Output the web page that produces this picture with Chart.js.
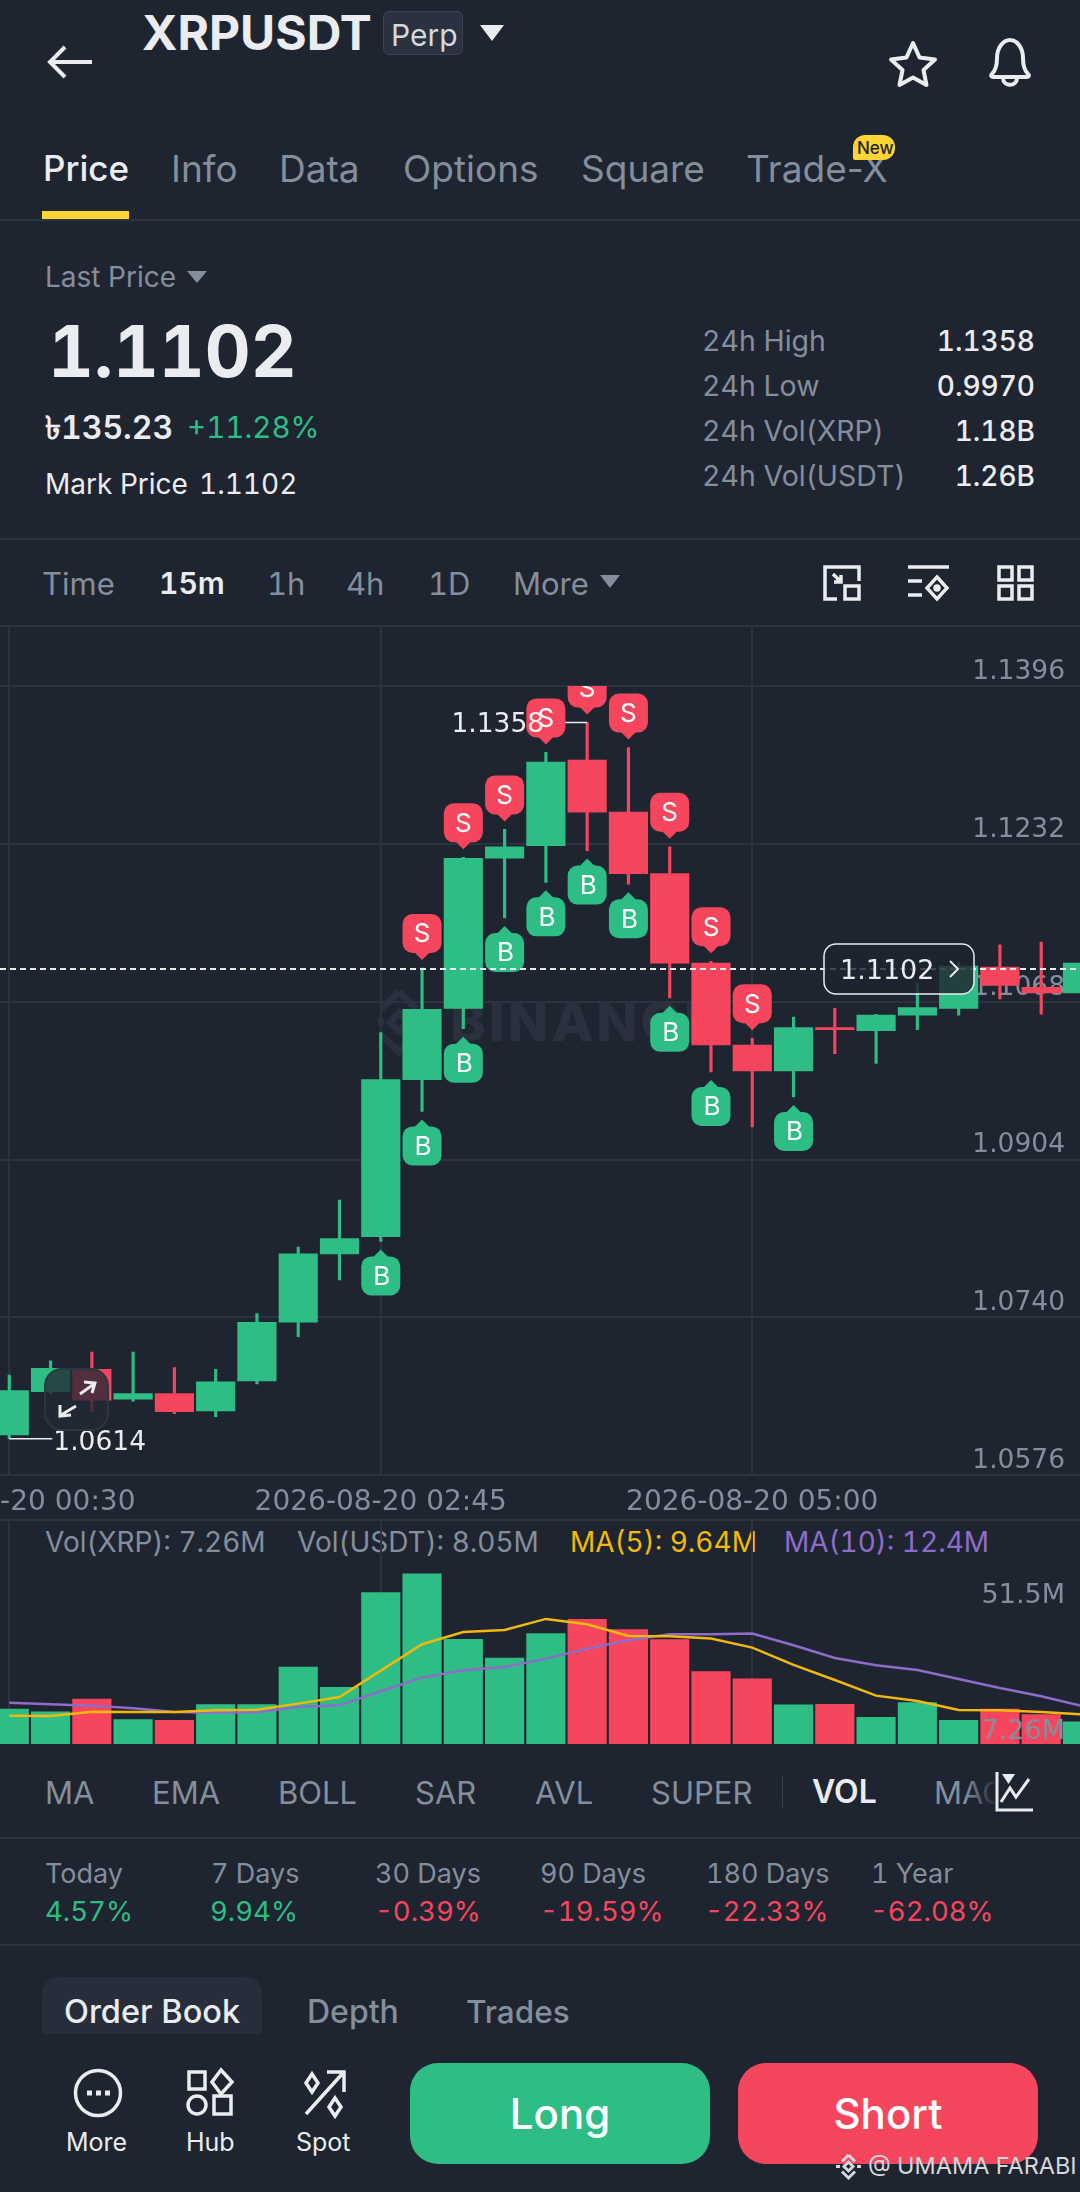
<!DOCTYPE html>
<html>
<head>
<meta charset="utf-8">
<title>XRPUSDT Perp</title>
<script src="https://cdn.jsdelivr.net/npm/chart.js@4/dist/chart.umd.min.js"></script>
<style>
html,body{margin:0;padding:0;background:#1E2530;}
body{position:relative;width:1080px;height:2192px;overflow:hidden;font-family:Inter,"Noto Sans","DejaVu Sans",sans-serif;color:#EAECEF;font-feature-settings:"tnum";font-variant-numeric:tabular-nums;}
.t{position:absolute;white-space:nowrap;line-height:1;transform:translateY(-50%);}
.g{color:#848E9C;}
.hr{position:absolute;left:0;width:1080px;height:2px;background:#2B3240;}
.abs{position:absolute;}
canvas{position:absolute;left:0;display:block;}
svg{position:absolute;overflow:visible;}
</style>
</head>
<body>

<!-- header -->
<svg style="left:48px;top:46px" width="44" height="32" fill="none" stroke="#EAECEF" stroke-width="4"><path d="M44 16H3M17 1L2 16l15 15"/></svg>
<div class="t" style="left:142px;top:33px;font-size:48px;font-weight:700">XRPUSDT</div>
<div class="abs" style="left:383px;top:11px;width:80px;height:44px;background:#2A3140;border:1px solid #3A4252;border-radius:6px;box-sizing:border-box"></div>
<div class="t" style="left:391px;top:35px;font-size:30px;color:#D5D8DD">Perp</div>
<svg style="left:480px;top:25px" width="24" height="16"><path d="M0 0H24L12 16Z" fill="#EAECEF"/></svg>
<svg style="left:889px;top:40px" width="48" height="46" viewBox="0 0 48 46" fill="none" stroke="#EAECEF" stroke-width="4" stroke-linejoin="round"><path d="M24 3l6.500 14.500L46 19.500 34.500 30l3 15L24 37.500 10.500 45l3-15L2 19.500l15.500-2z"/></svg>
<svg style="left:986px;top:37px" width="48" height="49" viewBox="0 0 48 49" fill="none" stroke="#EAECEF" stroke-width="4"><path d="M6 37c4-4 5-8 5-16 0-10 6-18 13-18s13 8 13 18c0 8 1 12 5 16 2 2 0 3-2 3H8c-2 0-4-1-2-3zM17 41c0 9 14 9 14 0"/></svg>

<!-- tabs -->
<div class="t" style="left:43px;top:168px;font-size:35px;font-weight:500">Price</div>
<div class="t g" style="left:171px;top:168px;font-size:37px">Info</div>
<div class="t g" style="left:279px;top:168px;font-size:37px">Data</div>
<div class="t g" style="left:403px;top:168px;font-size:37px">Options</div>
<div class="t g" style="left:581px;top:168px;font-size:37px">Square</div>
<div class="t g" style="left:746px;top:168px;font-size:37px;font-feature-settings:normal;font-variant-numeric:normal">Trade-X</div>
<div class="abs" style="left:853px;top:135px;width:42px;height:25px;background:#FCD535;border-radius:12px 12px 12px 2px"></div>
<div class="t" style="left:857px;top:148px;font-size:17px;color:#1E2530;font-weight:500">New</div>
<div class="abs" style="left:42px;top:211px;width:87px;height:8px;background:#FCD535"></div>
<div class="hr" style="top:219px"></div>

<!-- price block -->
<div class="t g" style="left:45px;top:277px;font-size:28px">Last Price</div>
<svg style="left:187px;top:271px" width="20" height="12"><path d="M0 0H20L10 12Z" fill="#848E9C"/></svg>
<div class="t" style="left:48px;top:351px;font-size:71px;font-weight:700">1.1102</div>
<div class="t" style="left:45px;top:428px;font-size:32px;font-weight:600">৳135.23</div>
<div class="t" style="left:187px;top:428px;font-size:29.500px;color:#2EBD85">+11.28%</div>
<div class="t" style="left:45px;top:484px;font-size:28px">Mark Price</div>
<div class="t" style="left:199px;top:484px;font-size:28px">1.1102</div>

<div class="t g" style="left:702px;top:341px;font-size:28.500px">24h High</div>
<div class="t" style="right:45px;top:341px;font-size:28px;font-weight:500">1.1358</div>
<div class="t g" style="left:702px;top:386px;font-size:28.500px">24h Low</div>
<div class="t" style="right:45px;top:386px;font-size:28px;font-weight:500">0.9970</div>
<div class="t g" style="left:702px;top:431px;font-size:28.500px">24h Vol(XRP)</div>
<div class="t" style="right:45px;top:431px;font-size:28px;font-weight:500">1.18B</div>
<div class="t g" style="left:702px;top:476px;font-size:28.500px">24h Vol(USDT)</div>
<div class="t" style="right:45px;top:476px;font-size:28px;font-weight:500">1.26B</div>
<div class="hr" style="top:538px"></div>

<!-- timeframes -->
<div class="t g" style="left:42px;top:583px;font-size:31px">Time</div>
<div class="t" style="left:159px;top:583px;font-size:30px;font-weight:600">15m</div>
<div class="t g" style="left:267px;top:583px;font-size:31px">1h</div>
<div class="t g" style="left:346px;top:583px;font-size:31px">4h</div>
<div class="t g" style="left:428px;top:583px;font-size:31px">1D</div>
<div class="t g" style="left:513px;top:583px;font-size:31px">More</div>
<svg style="left:600px;top:575px" width="20" height="13"><path d="M0 0H20L10 13Z" fill="#848E9C"/></svg>
<svg style="left:823px;top:565px" width="38" height="36" fill="none" stroke="#EAECEF" stroke-width="3.500"><path d="M14 34H2V2h34v14M10 9l8 8M18 10v7h-7"/><rect x="22" y="21" width="14" height="13"/></svg>
<svg style="left:908px;top:565px" width="41" height="36" fill="none" stroke="#EAECEF" stroke-width="3.500"><path d="M0 2H41M0 16H14M0 30H14"/><path d="M29 12l10 11-10 11-10-11z"/><circle cx="29" cy="23" r="2" fill="#EAECEF"/></svg>
<svg style="left:997px;top:565px" width="37" height="36" fill="none" stroke="#EAECEF" stroke-width="3.500"><rect x="2" y="2" width="13" height="13"/><rect x="22" y="2" width="13" height="13"/><rect x="2" y="21" width="13" height="13"/><rect x="22" y="21" width="13" height="13"/></svg>
<div class="hr" style="top:625px"></div>

<!-- watermark under the candles -->
<svg style="left:372px;top:987px" width="54" height="70" viewBox="0 0 54 70" fill="none" stroke="#2A303D" stroke-width="7"><path d="M27 5L45 22M27 5L9 22M6 35h6M42 35h6M18 35l9-9 9 9-9 9zM9 48l18 17 18-17"/></svg>
<div class="t" style="left:450px;top:1022px;font-size:54px;font-weight:800;color:#2A303D;letter-spacing:3px">BINANCE</div>

<canvas id="priceChart" width="1080" height="894" style="top:626px"></canvas>
<div class="hr" style="top:1519px"></div>

<!-- expand button -->
<div class="abs" style="left:44px;top:1368px;width:65px;height:63px;border-radius:18px;background:rgba(34,41,53,.78);border:2px solid #2E3542;box-sizing:border-box"></div>
<svg style="left:56px;top:1378px" width="42" height="42" fill="none" stroke="#EAECEF" stroke-width="3"><path d="M24 16L38 6M28 4l11 1-3 10M20 28L5 37M4 27l0 11 11-1"/></svg>

<!-- volume pane -->
<div class="t g" style="left:45px;top:1542px;font-size:28px">Vol(XRP): 7.26M</div>
<div class="t g" style="left:297px;top:1542px;font-size:28px">Vol(USDT): 8.05M</div>
<div class="t" style="left:570px;top:1542px;font-size:28px;color:#F0B90B">MA(5): 9.64M</div>
<div class="t" style="left:784px;top:1542px;font-size:28px;color:#8E6CC9">MA(10): 12.4M</div>
<canvas id="volChart" width="1080" height="224" style="top:1520px"></canvas>

<!-- indicators -->
<div class="t g" style="left:45px;top:1792px;font-size:31px">MA</div>
<div class="t g" style="left:152px;top:1792px;font-size:31px">EMA</div>
<div class="t g" style="left:278px;top:1792px;font-size:31px">BOLL</div>
<div class="t g" style="left:415px;top:1792px;font-size:31px">SAR</div>
<div class="t g" style="left:535px;top:1792px;font-size:31px">AVL</div>
<div class="t g" style="left:651px;top:1792px;font-size:31px">SUPER</div>
<div class="abs" style="left:782px;top:1775px;width:1px;height:32px;background:#3A4252"></div>
<div class="t" style="left:812px;top:1792px;font-size:32px;font-weight:600">VOL</div>
<div class="t g" style="left:934px;top:1792px;font-size:31px">MACD</div>
<div class="abs" style="left:965px;top:1770px;width:115px;height:44px;background:linear-gradient(90deg,rgba(30,37,48,0),#1E2530 28%)"></div>
<svg style="left:995px;top:1772px" width="38" height="40" fill="none" stroke="#EAECEF" stroke-width="3"><path d="M2 0V38H38M6 30l9-14 6 9 13-18"/><path d="M7 2H20L13.500 12Z" fill="#EAECEF" stroke="none"/></svg>
<div class="hr" style="top:1837px"></div>

<!-- period returns -->
<div class="t g" style="left:45px;top:1873px;font-size:27px">Today</div>
<div class="t g" style="left:211px;top:1873px;font-size:27px">7 Days</div>
<div class="t g" style="left:375px;top:1873px;font-size:27px">30 Days</div>
<div class="t g" style="left:540px;top:1873px;font-size:27px">90 Days</div>
<div class="t g" style="left:706px;top:1873px;font-size:27px">180 Days</div>
<div class="t g" style="left:871px;top:1873px;font-size:27px">1 Year</div>
<div class="t" style="left:45px;top:1912px;font-size:27.500px;color:#2EBD85">4.57%</div>
<div class="t" style="left:210px;top:1912px;font-size:27.500px;color:#2EBD85">9.94%</div>
<div class="t" style="left:375px;top:1912px;font-size:27.500px;color:#F6465D">-0.39%</div>
<div class="t" style="left:540px;top:1912px;font-size:27.500px;color:#F6465D">-19.59%</div>
<div class="t" style="left:705px;top:1912px;font-size:27.500px;color:#F6465D">-22.33%</div>
<div class="t" style="left:870px;top:1912px;font-size:27.500px;color:#F6465D">-62.08%</div>
<div class="hr" style="top:1944px"></div>

<!-- order book tabs -->
<div class="abs" style="left:42px;top:1977px;width:220px;height:57px;background:#272D3B;border-radius:16px 16px 0 0"></div>
<div class="t" style="left:64px;top:2012px;font-size:32.500px;font-weight:500">Order Book</div>
<div class="t g" style="left:307px;top:2012px;font-size:32px;font-weight:500">Depth</div>
<div class="t g" style="left:466px;top:2012px;font-size:31.500px;font-weight:500">Trades</div>

<!-- bottom bar -->
<svg style="left:74px;top:2069px" width="48" height="48" fill="none" stroke="#EAECEF" stroke-width="3.500"><circle cx="24" cy="24" r="22.500"/><path d="M13 24h5M22 24h5M31 24h5" stroke-width="5"/></svg>
<svg style="left:187px;top:2069px" width="48" height="48" fill="none" stroke="#EAECEF" stroke-width="3.500"><rect x="2" y="3" width="16" height="17"/><path d="M34 1l11 12-11 12-9-12z"/><circle cx="10" cy="36" r="9"/><rect x="27" y="27" width="17" height="18"/></svg>
<svg style="left:303px;top:2069px" width="44" height="48" fill="none" stroke="#EAECEF" stroke-width="3.500"><path d="M40 4L3 45M24 3h17v20"/><path d="M9 5l6 9-6 9-6-9zM32 29l6 9-6 9-6-9z"/></svg>
<div class="t" style="left:66px;top:2142px;font-size:25px">More</div>
<div class="t" style="left:186px;top:2142px;font-size:25px">Hub</div>
<div class="t" style="left:296px;top:2142px;font-size:25px">Spot</div>
<div class="abs" style="left:410px;top:2063px;width:300px;height:101px;border-radius:28px;background:#2EBD85"></div>
<div class="t" style="left:410px;top:2114px;width:300px;text-align:center;font-size:42px;font-weight:500;color:#fff">Long</div>
<div class="abs" style="left:738px;top:2063px;width:300px;height:101px;border-radius:28px;background:#F6465D"></div>
<div class="t" style="left:738px;top:2114px;width:300px;text-align:center;font-size:42px;font-weight:500;color:#fff">Short</div>
<svg style="left:835px;top:2153px" width="27" height="27" viewBox="0 0 27 27" fill="none" stroke="#D5D8DD" stroke-width="3"><path d="M13.500 2L20 8.500M13.500 2L7 8.500M1 13.500h4M22 13.500h4M9 13.500l4.500-4.500 4.500 4.500-4.500 4.500zM7 18.500L13.500 25 20 18.500"/></svg>
<div class="t" style="left:868px;top:2166px;font-size:23.500px;color:#D5D8DD">@ UMAMA FARABI</div>

<script>
// 15m candles, one entry per bar from 00:30 on
const opens  = [1.0618,1.0663,1.0686,1.0655,1.0661,1.0643,1.0674,1.0735,1.0806,1.0824,1.0987,1.1061,1.1217,1.1230,1.1319,1.1265,1.1201,1.1108,1.1023,1.0996,1.1041,1.1038,1.1054,1.1061,1.1104,1.1083,1.1077];
const closes = [1.0664,1.0687,1.0654,1.0661,1.0642,1.0673,1.0735,1.0806,1.0822,1.0987,1.1060,1.1217,1.1229,1.1317,1.1265,1.1201,1.1108,1.1023,1.0996,1.1041,1.1039,1.1054,1.1062,1.1105,1.1085,1.1077,1.1108];
const highs  = [1.0680,1.0695,1.0704,1.0704,1.0688,1.0686,1.0744,1.0813,1.0862,1.1036,1.1103,1.1218,1.1247,1.1327,1.1358,1.1332,1.1229,1.1110,1.1030,1.1052,1.1061,1.1055,1.1087,1.1109,1.1127,1.1130,1.1112];
const lows   = [1.0614,1.0661,1.0642,1.0653,1.0640,1.0637,1.0671,1.0720,1.0779,1.0819,1.0954,1.1040,1.1155,1.1192,1.1225,1.1190,1.1072,1.0995,1.0938,1.0969,1.1014,1.1004,1.1039,1.1054,1.1071,1.1055,1.1077];

// volume pane, millions of XRP
const volumes = [11.4,10.5,14.7,8.0,7.7,12.9,12.9,25.1,18.5,49.5,55.6,34.2,28.1,36.1,40.7,37.4,34.1,23.7,21.3,12.8,13.0,8.7,13.5,7.7,11.4,9.6,7.26];
const ma5  = [9.27,9.16,10.57,10.46,10.46,11.01,11.23,13.19,15.37,23.98,32.59,36.62,37.28,40.88,39.13,35.32,35.21,34.44,31.50,25.83,20.93,15.81,14.06,11.12,11.01,10.46,9.64];
const ma10 = [13.52,12.97,12.54,11.66,10.46,10.25,10.36,12.10,12.64,17.22,21.69,24.09,25.18,27.90,31.17,33.90,35.86,35.86,36.08,32.26,28.12,25.72,24.20,21.26,18.31,15.59,12.4];

// axes
const priceTicks = [1.1396,1.1232,1.1068,1.0904,1.0740,1.0576];
const volTicks = [51.5,7.26];
const timeTickIdx = [0,9,18];
const timeLabels = ['2026-08-20 00:30','2026-08-20 02:45','2026-08-20 05:00'];

// buy / sell markers, by candle index
const sellMarks = [10,11,12,13,14,15,16,17,18];
const buyMarks = [9,10,11,12,13,14,15,16,17,19];

const lastPrice = 1.1102;
const highIdx = 14, lowIdx = 0;

const GREEN = '#2EBD85', RED = '#F6465D', GRID = '#2B3240', GREY = '#848E9C', WHITE = '#EAECEF';
const FONT = 'Inter', NUM_FONT = '"DejaVu Sans"';
const candleColor = opens.map((o,i) => closes[i] >= o ? GREEN : RED);
const xMin = -0.225, xMax = 25.94;

function noPadding(scale){
  scale.paddingLeft = scale.paddingRight = scale.paddingTop = scale.paddingBottom = 0;
}

function xAxis(extra){
  return Object.assign({
    type:'linear', min:xMin, max:xMax, offset:false,
    border:{display:false},
    grid:{color:GRID, lineWidth:2, drawTicks:false, offset:false},
    afterBuildTicks(s){ s.ticks = timeTickIdx.map(v => ({value:v})); }
  }, extra);
}

function badge(ctx, x, y, up, label){
  // y is the wick end, the marker points at it from 8px away
  const w = 39, h = 39, tip = 7, gap = 8;
  const top = up ? y-gap-tip-h : y+gap+tip;
  ctx.fillStyle = up ? RED : GREEN;
  ctx.beginPath();
  ctx.roundRect(x-w/2, top, w, h, 10);
  ctx.fill();
  ctx.beginPath();
  if(up){ ctx.moveTo(x-8,top+h-1); ctx.lineTo(x,top+h+tip); ctx.lineTo(x+8,top+h-1); }
  else  { ctx.moveTo(x-8,top+1);   ctx.lineTo(x,top-tip);   ctx.lineTo(x+8,top+1); }
  ctx.fill();
  ctx.fillStyle = '#fff';
  ctx.font = '26px '+FONT;
  ctx.textAlign = 'center';
  ctx.textBaseline = 'middle';
  ctx.fillText(label, x+(up?0:1), top+h/2+1);
}

const overlays = {
  id:'overlays',
  afterDatasetsDraw(chart){
    const {ctx, scales:{x,y}, chartArea} = chart;
    ctx.save();

    // high / low callouts
    ctx.strokeStyle = WHITE; ctx.lineWidth = 1.5;
    const hx = x.getPixelForValue(highIdx), hy = y.getPixelForValue(highs[highIdx]);
    const lx = x.getPixelForValue(lowIdx), ly = y.getPixelForValue(lows[lowIdx]);
    ctx.beginPath();
    ctx.moveTo(hx,hy); ctx.lineTo(hx-40,hy);
    ctx.moveTo(lx,ly); ctx.lineTo(lx+43,ly);
    ctx.stroke();

    // markers are cut off at the top grid line
    ctx.save();
    ctx.beginPath();
    ctx.rect(0, y.getPixelForValue(priceTicks[0]), chartArea.right, chartArea.bottom);
    ctx.clip();
    buyMarks.forEach(i => badge(ctx, x.getPixelForValue(i), y.getPixelForValue(lows[i]), false, 'B'));
    sellMarks.forEach(i => badge(ctx, x.getPixelForValue(i), y.getPixelForValue(highs[i]), true, 'S'));
    ctx.restore();

    ctx.fillStyle = WHITE;
    ctx.font = '26.5px '+NUM_FONT;
    ctx.textBaseline = 'middle';
    ctx.textAlign = 'right';
    ctx.fillText(highs[highIdx].toFixed(4), hx-43, hy+3);
    ctx.textAlign = 'left';
    ctx.fillText(lows[lowIdx].toFixed(4), lx+44, ly+4);

    // last price line and pill
    const py = y.getPixelForValue(lastPrice);
    ctx.strokeStyle = WHITE; ctx.lineWidth = 2;
    ctx.setLineDash([6,4]);
    ctx.beginPath(); ctx.moveTo(0,py); ctx.lineTo(chartArea.right,py); ctx.stroke();
    ctx.setLineDash([]);
    ctx.beginPath();
    ctx.roundRect(824, py-25, 150, 50, 12);
    ctx.fillStyle = 'rgba(30,37,48,.82)';
    ctx.fill();
    ctx.strokeStyle = WHITE; ctx.lineWidth = 1.5;
    ctx.stroke();
    ctx.fillStyle = WHITE;
    ctx.font = '27px '+NUM_FONT;
    ctx.textAlign = 'left';
    ctx.fillText(lastPrice.toFixed(4), 840, py+3);
    ctx.lineWidth = 2;
    ctx.beginPath(); ctx.moveTo(950,py-8); ctx.lineTo(958,py); ctx.lineTo(950,py+8); ctx.stroke();

    ctx.restore();
  }
};

new Chart(document.getElementById('priceChart'), {
  type:'bar',
  data:{
    datasets:[
      {
        label:'body', order:1, barThickness:38.5, grouped:false,
        backgroundColor:candleColor,
        data:opens.map((o,i) => ({x:i, y:[o,closes[i]]}))
      },
      {
        label:'wick', order:2, barThickness:2.5, grouped:false,
        backgroundColor:candleColor,
        data:lows.map((l,i) => ({x:i, y:[l,highs[i]]}))
      }
    ]
  },
  options:{
    responsive:false, animation:false, devicePixelRatio:1,
    layout:{padding:0},
    plugins:{legend:{display:false}, tooltip:{enabled:false}},
    scales:{
      x:xAxis({
        ticks:{
          autoSkip:false, maxRotation:0, padding:11, color:GREY, font:{family:NUM_FONT,size:28},
          callback:v => timeLabels[timeTickIdx.indexOf(v)]
        },
        afterFit(s){ noPadding(s); s.height = 44.7; }
      }),
      y:{
        position:'right', min:1.0576, max:1.14583,
        border:{display:false},
        grid:{color:GRID, lineWidth:2, drawTicks:false},
        ticks:{
          mirror:true, padding:-15, labelOffset:-14, color:GREY, font:{family:NUM_FONT,size:26.5},
          callback:v => v.toFixed(4)
        },
        afterBuildTicks(s){ s.ticks = priceTicks.map(v => ({value:v})); },
        afterFit(s){ noPadding(s); s.width = 0; }
      }
    }
  },
  plugins:[overlays]
});

new Chart(document.getElementById('volChart'), {
  type:'bar',
  data:{
    datasets:[
      {
        type:'line', label:'MA(5)', order:1, borderColor:'#F0B90B', borderWidth:2.5,
        pointRadius:0, tension:0,
        data:ma5.map((v,i) => ({x:i,y:v}))
      },
      {
        type:'line', label:'MA(10)', order:2, borderColor:'#8E6CC9', borderWidth:2.5,
        pointRadius:0, tension:0,
        data:ma10.map((v,i) => ({x:i,y:v}))
      },
      {
        label:'Vol', order:3, barThickness:38.5,
        backgroundColor:candleColor,
        data:volumes.map((v,i) => ({x:i,y:v}))
      }
    ]
  },
  options:{
    responsive:false, animation:false, devicePixelRatio:1,
    layout:{padding:0},
    plugins:{legend:{display:false}, tooltip:{enabled:false}},
    scales:{
      x:xAxis({
        ticks:{display:false},
        afterFit(s){ noPadding(s); s.height = 0; }
      }),
      y:{
        position:'right', min:0, max:73.2,
        border:{display:false},
        grid:{display:false, drawTicks:false},
        ticks:{
          z:1, mirror:true, padding:-15, labelOffset:10, color:GREY, font:{family:NUM_FONT,size:27},
          callback:v => v+'M'
        },
        afterBuildTicks(s){ s.ticks = volTicks.map(v => ({value:v})); },
        afterFit(s){ noPadding(s); s.width = 0; }
      }
    }
  }
});
</script>
</body>
</html>
